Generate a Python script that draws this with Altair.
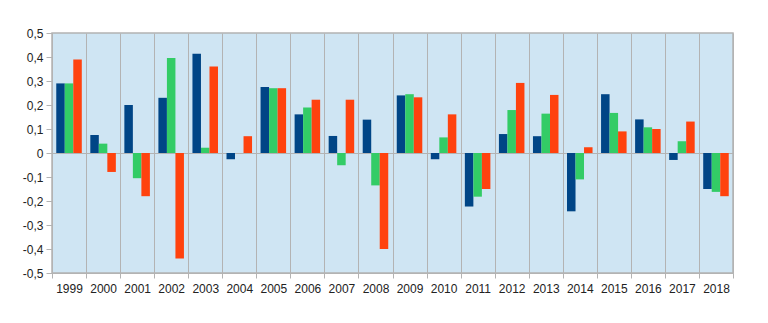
import altair as alt
import pandas as pd

years = [str(y) for y in range(1999, 2019)]
series_names = ["A", "B", "C"]
s_a = [0.29, 0.075, 0.20, 0.23, 0.414, -0.026, 0.275, 0.161, 0.071, 0.139,
       0.24, -0.026, -0.223, 0.079, 0.07, -0.243, 0.245, 0.14, -0.029, -0.15]
s_b = [0.29, 0.039, -0.105, 0.396, 0.022, 0.0, 0.27, 0.19, -0.051, -0.135,
       0.245, 0.065, -0.182, 0.179, 0.164, -0.11, 0.167, 0.107, 0.049, -0.162]
s_c = [0.39, -0.079, -0.18, -0.44, 0.36, 0.07, 0.27, 0.222, 0.222, -0.40,
       0.232, 0.161, -0.15, 0.292, 0.242, 0.024, 0.09, 0.10, 0.131, -0.18]
colors = ["#004586", "#33cc66", "#ff420e"]
y_ticks = [-0.5, -0.4, -0.3, -0.2, -0.1, 0, 0.1, 0.2, 0.3, 0.4, 0.5]

rows = []
for name, vals in zip(series_names, [s_a, s_b, s_c]):
    for y, v in zip(years, vals):
        rows.append({"year": y, "series": name, "value": v})
df = pd.DataFrame(rows)

font = "Liberation Sans"
grey = "#b3b3b3"

bars = alt.Chart(df).mark_bar().encode(
    x=alt.X("year:N", title=None, sort=years,
            scale=alt.Scale(paddingInner=0, paddingOuter=0),
            axis=alt.Axis(tickBand="extent", grid=True, gridColor=grey, gridWidth=1,
                          tickColor=grey, tickSize=5, domainColor=grey,
                          labelAngle=0, labelFont=font, labelFontSize=12,
                          labelColor="#222", labelPadding=5, labelOverlap=False)),
    xOffset=alt.XOffset("series:N", sort=series_names,
                        scale=alt.Scale(paddingInner=0, paddingOuter=0.5)),
    y=alt.Y("value:Q", title=None,
            scale=alt.Scale(domain=[-0.5, 0.5], nice=False, zero=False),
            axis=alt.Axis(values=y_ticks, tickCount=50, grid=True, gridColor=grey,
                          gridOpacity={"condition": {"test": "abs(datum.value) < 1e-9", "value": 1}, "value": 0},
                          tickColor=grey, tickSize=6,
                          domainColor=grey, labelFont=font, labelFontSize=12,
                          labelColor="#222", labelPadding=3, labelOverlap=False,
                          labelFlush=False,
                          labelExpr="abs(datum.value) < 1e-9 ? '0' : (datum.value < 0 ? '-' : '') + replace(format(abs(datum.value), '.1f'), '.', ',')")),
    color=alt.Color("series:N", sort=series_names,
                    scale=alt.Scale(domain=series_names, range=colors), legend=None),
)

chart = bars.properties(
    width=681, height=240,
    autosize=alt.AutoSizeParams(type="none"),
    padding={"left": 52, "top": 33, "right": 35, "bottom": 50},
    background="white",
).configure_view(
    fill="#cfe5f3", stroke=grey, strokeWidth=1.5
).configure_axis(labelOverlap=False).configure_axisY(labelOverlap=False)

chart.save("out.html", embed_options={"renderer": "svg", "actions": False})
